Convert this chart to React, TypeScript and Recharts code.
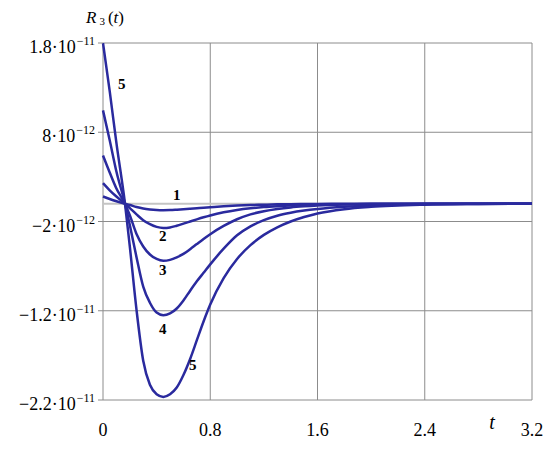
import React from 'react';
import { LineChart, Line, XAxis, YAxis, CartesianGrid, ReferenceLine, ReferenceDot } from 'recharts';

// values in units of 1e-12
const T = [0, 0.05, 0.1, 0.164, 0.2, 0.25, 0.3, 0.35, 0.4, 0.45, 0.5, 0.55, 0.6, 0.65, 0.7, 0.75, 0.8, 0.9, 1.0, 1.1, 1.2, 1.3, 1.4, 1.5, 1.6, 1.8, 2.0, 2.4, 2.8, 3.2];
const curve1 = [0.8, 0.52, 0.27, 0, -0.15, -0.38, -0.55, -0.65, -0.71, -0.73, -0.72, -0.68, -0.63, -0.57, -0.51, -0.45, -0.4, -0.3, -0.22, -0.16, -0.12, -0.08, -0.06, -0.04, -0.03, -0.01, 0, 0, 0, 0];
const curve2 = [2.3, 1.5, 0.8, 0, -0.5, -1.2, -1.85, -2.3, -2.6, -2.72, -2.66, -2.47, -2.24, -2.0, -1.76, -1.53, -1.32, -0.97, -0.71, -0.52, -0.38, -0.28, -0.2, -0.15, -0.12, -0.07, -0.04, -0.01, 0, 0];
const curve3 = [5.4, 3.5, 1.7, 0, -1.3, -3.4, -4.8, -5.7, -6.2, -6.4, -6.3, -6.02, -5.63, -5.1, -4.52, -3.95, -3.42, -2.5, -1.75, -1.2, -0.85, -0.6, -0.42, -0.3, -0.21, -0.1, -0.05, -0.02, 0, 0];
const curve4 = [10.45, 7.1, 3.6, 0, -2.4, -6.0, -9.3, -11.1, -12.2, -12.5, -12.3, -11.75, -10.85, -9.75, -8.7, -7.75, -6.8, -5.05, -3.55, -2.55, -1.85, -1.35, -1.02, -0.78, -0.6, -0.35, -0.2, -0.08, -0.03, 0];
const curve5 = [18, 12.6, 6.8, 0, -4.8, -11.9, -17.6, -20.3, -21.35, -21.65, -21.35, -20.6, -19.2, -17.4, -15.3, -13.2, -11.3, -8.35, -6.2, -4.65, -3.5, -2.65, -2.0, -1.5, -1.1, -0.62, -0.36, -0.12, -0.04, 0];

const xTicks = [0, 0.8, 1.6, 2.4, 3.2];
const xTickLabels = ['0', '0.8', '1.6', '2.4', '3.2'];
const yTicks = [-22, -12, -2, 8, 18];
const yTickBase = ['\u22122.2\u00b710', '\u22121.2\u00b710', '\u22122\u00b710', '8\u00b710', '1.8\u00b710'];
const yTickExp = ['\u221211', '\u221211', '\u221212', '\u221212', '\u221211'];

const curveLabelT = [0.55, 0.445, 0.445, 0.445, 0.139, 0.669];
const curveLabelV = [1.0, -3.66, -7.39, -14.0, 13.44, -18.1];
const curveLabelText = ['1', '2', '3', '4', '5', '5'];

const series = [curve1, curve2, curve3, curve4, curve5];
const data = T.map((t, i) => {
  const row: Record<string, number> = { t };
  series.forEach((s, k) => { row['c' + (k + 1)] = s[i]; });
  return row;
});

const FONT = 'Liberation Serif';
const LINE = '#2a2a9e';
const GRID = '#8c8c8c';

const YTick = (props: any) => {
  const { x, y, payload } = props;
  const i = yTicks.indexOf(payload.value);
  return (
    <text x={x} y={y + 10} textAnchor="end" fontFamily={FONT} fontSize={18} fill="#000">
      <tspan>{yTickBase[i]}</tspan>
      <tspan dx={1} dy={-8} fontSize={12}>{yTickExp[i]}</tspan>
    </text>
  );
};

const XTick = (props: any) => {
  const { x, y, payload } = props;
  const i = xTicks.indexOf(payload.value);
  return (
    <text x={x} y={y + 36} textAnchor="middle" fontFamily={FONT} fontSize={18} fill="#000">
      {xTickLabels[i]}
    </text>
  );
};

export default function App() {
  return (
    <div style={{ position: 'absolute', left: 0, top: 0, width: 550, height: 449, background: '#fff' }}>
      <LineChart width={550} height={449} data={data} margin={{ top: 43, right: 18, bottom: 0, left: 0 }}>
        <CartesianGrid stroke={GRID} strokeWidth={1} />
        <XAxis
          dataKey="t"
          type="number"
          domain={[0, 3.2]}
          ticks={xTicks}
          height={49}
          axisLine={false}
          tickLine={false}
          tickSize={0}
          tickMargin={0}
          tick={<XTick />}
          interval={0}
        />
        <YAxis
          type="number"
          domain={[-22, 18]}
          ticks={yTicks}
          width={103}
          axisLine={false}
          tickLine={{ stroke: GRID }}
          tickSize={5}
          tickMargin={3}
          tick={<YTick />}
          interval={0}
          allowDataOverflow
        />
        <ReferenceLine y={0} stroke="#c4c4c4" strokeWidth={2} />
        {series.map((_, k) => (
          <Line
            key={k}
            dataKey={'c' + (k + 1)}
            type="monotone"
            stroke={LINE}
            strokeWidth={2.5}
            dot={false}
            activeDot={false}
            isAnimationActive={false}
          />
        ))}
        {curveLabelText.map((txt, i) => (
          <ReferenceDot
            key={'l' + i}
            x={curveLabelT[i]}
            y={curveLabelV[i]}
            r={0}
            shape={(p: any) => (
              <text x={p.cx} y={p.cy} textAnchor="middle" dominantBaseline="central" fontFamily={FONT} fontSize={15} fontWeight="bold" fill="#000">
                {txt}
              </text>
            )}
          />
        ))}
      </LineChart>
      <svg width={550} height={449} style={{ position: 'absolute', left: 0, top: 0, pointerEvents: 'none' }}>
        <text x={86} y={23} fontFamily={FONT} fontSize={17} fill="#000">
          <tspan fontStyle="italic">R</tspan>
          <tspan dx={3} dy={2} fontSize={11}>3</tspan>
          <tspan dx={3} dy={-2}>(</tspan>
          <tspan fontStyle="italic">t</tspan>
          <tspan>)</tspan>
        </text>
        <text x={492} y={429} textAnchor="middle" fontFamily={FONT} fontSize={20} fontStyle="italic" fill="#000">t</text>
      </svg>
    </div>
  );
}
